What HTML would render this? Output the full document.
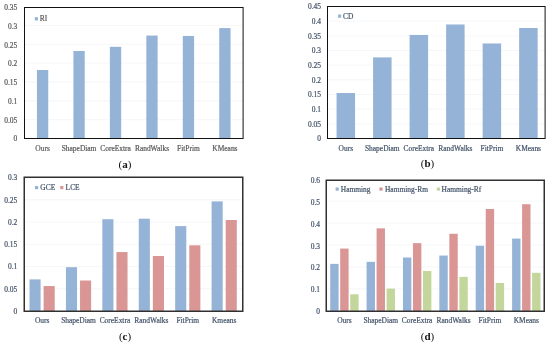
<!DOCTYPE html>
<html><head><meta charset="utf-8"><title>Figure</title>
<style>html,body{margin:0;padding:0;background:#fff}svg{display:block}text{font-family:"Liberation Serif",serif;stroke-width:0.2}</style>
</head><body>
<svg width="550" height="345" viewBox="0 0 550 345" font-size="7.45">
<rect width="550" height="345" fill="#fff"/>
<line x1="24.5" x2="243.5" y1="119.73" y2="119.73" stroke="#ECECEC" stroke-width="0.5"/>
<line x1="24.5" x2="243.5" y1="100.86" y2="100.86" stroke="#ECECEC" stroke-width="0.5"/>
<line x1="24.5" x2="243.5" y1="81.99" y2="81.99" stroke="#ECECEC" stroke-width="0.5"/>
<line x1="24.5" x2="243.5" y1="63.12" y2="63.12" stroke="#ECECEC" stroke-width="0.5"/>
<line x1="24.5" x2="243.5" y1="44.25" y2="44.25" stroke="#ECECEC" stroke-width="0.5"/>
<line x1="24.5" x2="243.5" y1="25.38" y2="25.38" stroke="#ECECEC" stroke-width="0.5"/>
<rect x="36.95" y="70.01" width="11.3" height="68.49" fill="#95B3D7"/>
<rect x="73.41" y="50.99" width="11.3" height="87.51" fill="#95B3D7"/>
<rect x="109.87" y="46.80" width="11.3" height="91.70" fill="#95B3D7"/>
<rect x="146.33" y="35.57" width="11.3" height="102.93" fill="#95B3D7"/>
<rect x="182.79" y="35.95" width="11.3" height="102.55" fill="#95B3D7"/>
<rect x="219.25" y="28.09" width="11.3" height="110.41" fill="#95B3D7"/>
<rect x="24.5" y="7.5" width="218.6" height="131.0" fill="none" stroke="#111" stroke-width="1"/>
<text x="17.3" y="141.30" text-anchor="end" fill="#595959" stroke="#595959">0</text>
<text x="17.3" y="122.59" text-anchor="end" fill="#595959" stroke="#595959">0.05</text>
<text x="17.3" y="103.87" text-anchor="end" fill="#595959" stroke="#595959">0.1</text>
<text x="17.3" y="85.16" text-anchor="end" fill="#595959" stroke="#595959">0.15</text>
<text x="17.3" y="66.44" text-anchor="end" fill="#595959" stroke="#595959">0.2</text>
<text x="17.3" y="47.73" text-anchor="end" fill="#595959" stroke="#595959">0.25</text>
<text x="17.3" y="29.01" text-anchor="end" fill="#595959" stroke="#595959">0.3</text>
<text x="17.3" y="10.30" text-anchor="end" fill="#595959" stroke="#595959">0.35</text>
<text x="42.60" y="151.1" text-anchor="middle" fill="#595959" stroke="#595959">Ours</text>
<text x="79.06" y="151.1" text-anchor="middle" fill="#595959" stroke="#595959">ShapeDiam</text>
<text x="115.52" y="151.1" text-anchor="middle" fill="#595959" stroke="#595959">CoreExtra</text>
<text x="151.98" y="151.1" text-anchor="middle" fill="#595959" stroke="#595959">RandWalks</text>
<text x="188.44" y="151.1" text-anchor="middle" fill="#595959" stroke="#595959">FitPrim</text>
<text x="224.90" y="151.1" text-anchor="middle" fill="#595959" stroke="#595959">KMeans</text>
<rect x="34.8" y="17.2" width="3.2" height="3.2" fill="#95B3D7"/>
<text x="39.8" y="21.0" fill="#595959" stroke="#595959">RI</text>
<text x="125" y="167.6" text-anchor="middle" fill="#111" stroke="none" font-size="11">(<tspan font-weight="bold">a</tspan>)</text>
<line x1="327.5" x2="545.5" y1="123.83" y2="123.83" stroke="#E8EDF2" stroke-width="0.5"/>
<line x1="327.5" x2="545.5" y1="109.17" y2="109.17" stroke="#E8EDF2" stroke-width="0.5"/>
<line x1="327.5" x2="545.5" y1="94.50" y2="94.50" stroke="#E8EDF2" stroke-width="0.5"/>
<line x1="327.5" x2="545.5" y1="79.83" y2="79.83" stroke="#E8EDF2" stroke-width="0.5"/>
<line x1="327.5" x2="545.5" y1="65.17" y2="65.17" stroke="#E8EDF2" stroke-width="0.5"/>
<line x1="327.5" x2="545.5" y1="50.50" y2="50.50" stroke="#E8EDF2" stroke-width="0.5"/>
<line x1="327.5" x2="545.5" y1="35.83" y2="35.83" stroke="#E8EDF2" stroke-width="0.5"/>
<line x1="327.5" x2="545.5" y1="21.17" y2="21.17" stroke="#E8EDF2" stroke-width="0.5"/>
<rect x="336.55" y="93.03" width="18.5" height="45.47" fill="#95B3D7"/>
<rect x="373.07" y="57.39" width="18.5" height="81.11" fill="#95B3D7"/>
<rect x="409.59" y="34.95" width="18.5" height="103.55" fill="#95B3D7"/>
<rect x="446.11" y="24.48" width="18.5" height="114.02" fill="#95B3D7"/>
<rect x="482.63" y="43.46" width="18.5" height="95.04" fill="#95B3D7"/>
<rect x="519.15" y="28.00" width="18.5" height="110.50" fill="#95B3D7"/>
<rect x="327.5" y="6.5" width="217.6" height="132.0" fill="none" stroke="#111" stroke-width="1"/>
<text x="321" y="141.30" text-anchor="end" fill="#44546A" stroke="#44546A">0</text>
<text x="321" y="126.63" text-anchor="end" fill="#44546A" stroke="#44546A">0.05</text>
<text x="321" y="111.97" text-anchor="end" fill="#44546A" stroke="#44546A">0.1</text>
<text x="321" y="97.30" text-anchor="end" fill="#44546A" stroke="#44546A">0.15</text>
<text x="321" y="82.63" text-anchor="end" fill="#44546A" stroke="#44546A">0.2</text>
<text x="321" y="67.97" text-anchor="end" fill="#44546A" stroke="#44546A">0.25</text>
<text x="321" y="53.30" text-anchor="end" fill="#44546A" stroke="#44546A">0.3</text>
<text x="321" y="38.63" text-anchor="end" fill="#44546A" stroke="#44546A">0.35</text>
<text x="321" y="23.97" text-anchor="end" fill="#44546A" stroke="#44546A">0.4</text>
<text x="321" y="9.30" text-anchor="end" fill="#44546A" stroke="#44546A">0.45</text>
<text x="345.80" y="150.7" text-anchor="middle" fill="#44546A" stroke="#44546A">Ours</text>
<text x="382.32" y="150.7" text-anchor="middle" fill="#44546A" stroke="#44546A">ShapeDiam</text>
<text x="418.84" y="150.7" text-anchor="middle" fill="#44546A" stroke="#44546A">CoreExtra</text>
<text x="455.36" y="150.7" text-anchor="middle" fill="#44546A" stroke="#44546A">RandWalks</text>
<text x="491.88" y="150.7" text-anchor="middle" fill="#44546A" stroke="#44546A">FitPrim</text>
<text x="528.40" y="150.7" text-anchor="middle" fill="#44546A" stroke="#44546A">KMeans</text>
<rect x="338" y="14.5" width="3.2" height="3.2" fill="#95B3D7"/>
<text x="343.1" y="18.7" fill="#44546A" stroke="#44546A">CD</text>
<text x="427.5" y="166.6" text-anchor="middle" fill="#111" stroke="none" font-size="11">(<tspan font-weight="bold">b</tspan>)</text>
<line x1="24.5" x2="243.0" y1="288.75" y2="288.75" stroke="#EAEDF0" stroke-width="0.5"/>
<line x1="24.5" x2="243.0" y1="266.50" y2="266.50" stroke="#EAEDF0" stroke-width="0.5"/>
<line x1="24.5" x2="243.0" y1="244.25" y2="244.25" stroke="#EAEDF0" stroke-width="0.5"/>
<line x1="24.5" x2="243.0" y1="222.00" y2="222.00" stroke="#EAEDF0" stroke-width="0.5"/>
<line x1="24.5" x2="243.0" y1="199.75" y2="199.75" stroke="#EAEDF0" stroke-width="0.5"/>
<rect x="29.51" y="279.40" width="11.1" height="31.59" fill="#95B3D7"/>
<rect x="43.61" y="286.08" width="11.1" height="24.92" fill="#D99694"/>
<rect x="65.93" y="267.21" width="11.1" height="43.79" fill="#95B3D7"/>
<rect x="80.03" y="280.52" width="11.1" height="30.48" fill="#D99694"/>
<rect x="102.34" y="219.20" width="11.1" height="91.80" fill="#95B3D7"/>
<rect x="116.44" y="252.08" width="11.1" height="58.92" fill="#D99694"/>
<rect x="138.76" y="218.71" width="11.1" height="92.29" fill="#95B3D7"/>
<rect x="152.86" y="256.00" width="11.1" height="55.00" fill="#D99694"/>
<rect x="175.18" y="226.09" width="11.1" height="84.91" fill="#95B3D7"/>
<rect x="189.28" y="245.32" width="11.1" height="65.68" fill="#D99694"/>
<rect x="211.59" y="201.40" width="11.1" height="109.60" fill="#95B3D7"/>
<rect x="225.69" y="220.00" width="11.1" height="91.00" fill="#D99694"/>
<rect x="24.25" y="177.25" width="218.5" height="134.0" fill="none" stroke="#303030" stroke-width="1.5"/>
<text x="17.3" y="313.80" text-anchor="end" fill="#44546A" stroke="#44546A">0</text>
<text x="17.3" y="291.55" text-anchor="end" fill="#44546A" stroke="#44546A">0.05</text>
<text x="17.3" y="269.30" text-anchor="end" fill="#44546A" stroke="#44546A">0.1</text>
<text x="17.3" y="247.05" text-anchor="end" fill="#44546A" stroke="#44546A">0.15</text>
<text x="17.3" y="224.80" text-anchor="end" fill="#44546A" stroke="#44546A">0.2</text>
<text x="17.3" y="202.55" text-anchor="end" fill="#44546A" stroke="#44546A">0.25</text>
<text x="17.3" y="180.30" text-anchor="end" fill="#44546A" stroke="#44546A">0.3</text>
<text x="42.11" y="322.7" text-anchor="middle" fill="#44546A" stroke="#44546A">Ours</text>
<text x="78.53" y="322.7" text-anchor="middle" fill="#44546A" stroke="#44546A">ShapeDiam</text>
<text x="114.94" y="322.7" text-anchor="middle" fill="#44546A" stroke="#44546A">CoreExtra</text>
<text x="151.36" y="322.7" text-anchor="middle" fill="#44546A" stroke="#44546A">RandWalks</text>
<text x="187.78" y="322.7" text-anchor="middle" fill="#44546A" stroke="#44546A">FitPrim</text>
<text x="224.19" y="322.7" text-anchor="middle" fill="#44546A" stroke="#44546A">Kmeans</text>
<rect x="35" y="186" width="3.2" height="3.2" fill="#95B3D7"/>
<text x="40.3" y="190.0" fill="#44546A" stroke="#44546A">GCE</text>
<rect x="60.2" y="186" width="3.2" height="3.2" fill="#D99694"/>
<text x="65.6" y="190.0" fill="#44546A" stroke="#44546A">LCE</text>
<text x="125" y="340.1" text-anchor="middle" fill="#111" stroke="none" font-size="11">(<tspan font-weight="bold">c</tspan>)</text>
<line x1="326.5" x2="544.0" y1="288.87" y2="288.87" stroke="#EAEDF0" stroke-width="0.5"/>
<line x1="326.5" x2="544.0" y1="266.94" y2="266.94" stroke="#EAEDF0" stroke-width="0.5"/>
<line x1="326.5" x2="544.0" y1="245.01" y2="245.01" stroke="#EAEDF0" stroke-width="0.5"/>
<line x1="326.5" x2="544.0" y1="223.08" y2="223.08" stroke="#EAEDF0" stroke-width="0.5"/>
<line x1="326.5" x2="544.0" y1="201.15" y2="201.15" stroke="#EAEDF0" stroke-width="0.5"/>
<rect x="330.20" y="263.89" width="8.4" height="47.11" fill="#95B3D7"/>
<rect x="340.20" y="248.58" width="8.4" height="62.42" fill="#D99694"/>
<rect x="350.20" y="294.25" width="8.4" height="16.75" fill="#C3D69B"/>
<rect x="366.58" y="261.85" width="8.4" height="49.16" fill="#95B3D7"/>
<rect x="376.58" y="228.35" width="8.4" height="82.65" fill="#D99694"/>
<rect x="386.58" y="288.60" width="8.4" height="22.40" fill="#C3D69B"/>
<rect x="402.96" y="257.50" width="8.4" height="53.51" fill="#95B3D7"/>
<rect x="412.96" y="243.14" width="8.4" height="67.86" fill="#D99694"/>
<rect x="422.96" y="270.98" width="8.4" height="40.02" fill="#C3D69B"/>
<rect x="439.34" y="255.54" width="8.4" height="55.46" fill="#95B3D7"/>
<rect x="449.34" y="233.79" width="8.4" height="77.21" fill="#D99694"/>
<rect x="459.34" y="276.85" width="8.4" height="34.15" fill="#C3D69B"/>
<rect x="475.72" y="245.75" width="8.4" height="65.25" fill="#95B3D7"/>
<rect x="485.72" y="208.99" width="8.4" height="102.01" fill="#D99694"/>
<rect x="495.72" y="283.01" width="8.4" height="27.99" fill="#C3D69B"/>
<rect x="512.10" y="238.57" width="8.4" height="72.43" fill="#95B3D7"/>
<rect x="522.10" y="204.21" width="8.4" height="106.79" fill="#D99694"/>
<rect x="532.10" y="272.81" width="8.4" height="38.19" fill="#C3D69B"/>
<rect x="326.25" y="180.25" width="218.0" height="131.0" fill="none" stroke="#303030" stroke-width="1.5"/>
<text x="320" y="313.80" text-anchor="end" fill="#44546A" stroke="#44546A">0</text>
<text x="320" y="292.05" text-anchor="end" fill="#44546A" stroke="#44546A">0.1</text>
<text x="320" y="270.30" text-anchor="end" fill="#44546A" stroke="#44546A">0.2</text>
<text x="320" y="248.55" text-anchor="end" fill="#44546A" stroke="#44546A">0.3</text>
<text x="320" y="226.80" text-anchor="end" fill="#44546A" stroke="#44546A">0.4</text>
<text x="320" y="205.05" text-anchor="end" fill="#44546A" stroke="#44546A">0.5</text>
<text x="320" y="183.30" text-anchor="end" fill="#44546A" stroke="#44546A">0.6</text>
<text x="344.40" y="322.7" text-anchor="middle" fill="#44546A" stroke="#44546A">Ours</text>
<text x="380.78" y="322.7" text-anchor="middle" fill="#44546A" stroke="#44546A">ShapeDiam</text>
<text x="417.16" y="322.7" text-anchor="middle" fill="#44546A" stroke="#44546A">CoreExtra</text>
<text x="453.54" y="322.7" text-anchor="middle" fill="#44546A" stroke="#44546A">RandWalks</text>
<text x="489.92" y="322.7" text-anchor="middle" fill="#44546A" stroke="#44546A">FitPrim</text>
<text x="526.30" y="322.7" text-anchor="middle" fill="#44546A" stroke="#44546A">KMeans</text>
<rect x="335.6" y="187.5" width="3.2" height="3.2" fill="#95B3D7"/>
<text x="340.8" y="191.5" fill="#44546A" stroke="#44546A">Hamming</text>
<rect x="379.4" y="187.5" width="3.2" height="3.2" fill="#D99694"/>
<text x="385" y="191.5" fill="#44546A" stroke="#44546A">Hamming-Rm</text>
<rect x="436.8" y="187.5" width="3.2" height="3.2" fill="#C3D69B"/>
<text x="441.6" y="191.5" fill="#44546A" stroke="#44546A">Hamming-Rf</text>
<text x="427.5" y="340.1" text-anchor="middle" fill="#111" stroke="none" font-size="11">(<tspan font-weight="bold">d</tspan>)</text>
</svg>
</body></html>
